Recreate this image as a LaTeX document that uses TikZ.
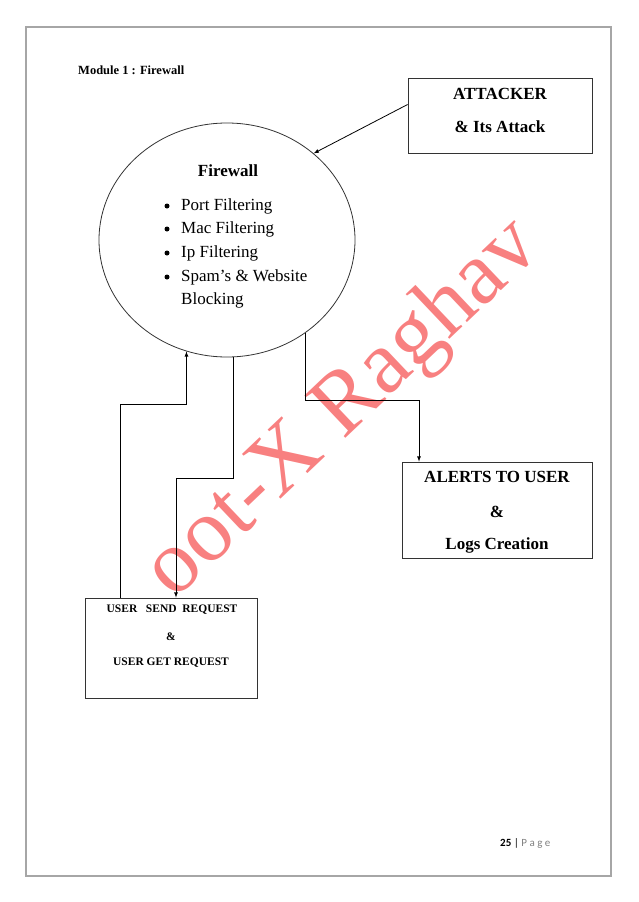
\documentclass[tikz,border=0pt]{standalone}
\usepackage{fontspec}
\setmainfont{Liberation Serif}
\newfontfamily\pagefont{Carlito}
\usetikzlibrary{shapes.geometric,arrows}
\definecolor{markred}{RGB}{248,128,128}
\tikzstyle{arrow} = [->,>=latex,line width=0.8pt]
\tikzset{box/.style={rectangle,draw=black!80,line width=0.8pt,fill=white},
  bigtxt/.style={font=\fontsize{17}{20}\selectfont\bfseries},
  smalltxt/.style={font=\fontsize{11.5}{14}\selectfont\bfseries},
  item/.style={anchor=west,inner sep=0pt,font=\fontsize{17}{20}\selectfont},
  dot/.style={circle,fill=black,inner sep=0pt,minimum size=5pt}}

\begin{document}
\begin{tikzpicture}[x=1pt,y=-1pt]
    \useasboundingbox (0,0) rectangle (638,902);
    \draw[gray!70, line width=1.5pt] (26,27) rectangle (611,876);

    % watermark
    \node[text=markred, font=\fontsize{90}{90}\selectfont, rotate=43.5] (mark) at (344,410) {oot-X Raghav};

    \node[anchor=west, inner sep=0pt, font=\fontsize{12.5}{14}\selectfont\bfseries] (title) at (78,70) {Module 1 : Firewall};

    \node [ellipse, draw=black!80, line width=0.8pt, minimum width=256pt, minimum height=234pt, inner sep=0pt] (fw) at (227,240) {};
    \node [bigtxt] (fwtitle) at (228,171) {Firewall};
    \foreach \txt/\ypos [count=\i] in {Port Filtering/206, Mac Filtering/229, Ip Filtering/253, Spam's \& Website/277} {
        \node [dot] (dot\i) at (167,\ypos) {};
        \node [item] (item\i) at (181,\ypos) {\txt};
    }
    \node [item] (item5) at (181,300) {Blocking};

    \node [box, minimum width=184pt, minimum height=75pt] (attack) at (500,115.5) {};
    \node [bigtxt] (attack1) at (500,94) {ATTACKER};
    \node [bigtxt] (attack2) at (500,127) {\& Its Attack};

    \node [box, minimum width=190pt, minimum height=96pt] (alert) at (497,510) {};
    \node [bigtxt] (alert1) at (497,477) {ALERTS TO USER};
    \node [bigtxt] (alert2) at (497,512) {\&};
    \node [bigtxt] (alert3) at (497,545) {Logs Creation};

    \node [box, minimum width=172pt, minimum height=100pt] (user) at (171,648) {};
    \node [smalltxt] (user1) at (172,610) {USER\ \ \ SEND\ \ REQUEST};
    \node [smalltxt] (user2) at (171,637) {\&};
    \node [smalltxt] (user3) at (171,663) {USER GET REQUEST};

    \draw [arrow] ([yshift=11pt]attack.west) -- (fw.45);
    \draw [arrow] ([xshift=-51pt]user.north) -- ++(0,-193) -| (fw.-110);
    \draw [arrow] (fw.-87) -- (fw.-87 |- 0,478) -| ([xshift=5pt]user.north);
    \draw [arrow] (fw.-50) -- (fw.-50 |- 0,400) -| ([xshift=-78pt]alert.north);

    \node [anchor=west, inner sep=0pt, font=\pagefont\fontsize{11}{13}\selectfont] (pagenum) at (500,843) {\textbf{25} | \textcolor{gray}{P a g e}};
\end{tikzpicture}
\end{document}
